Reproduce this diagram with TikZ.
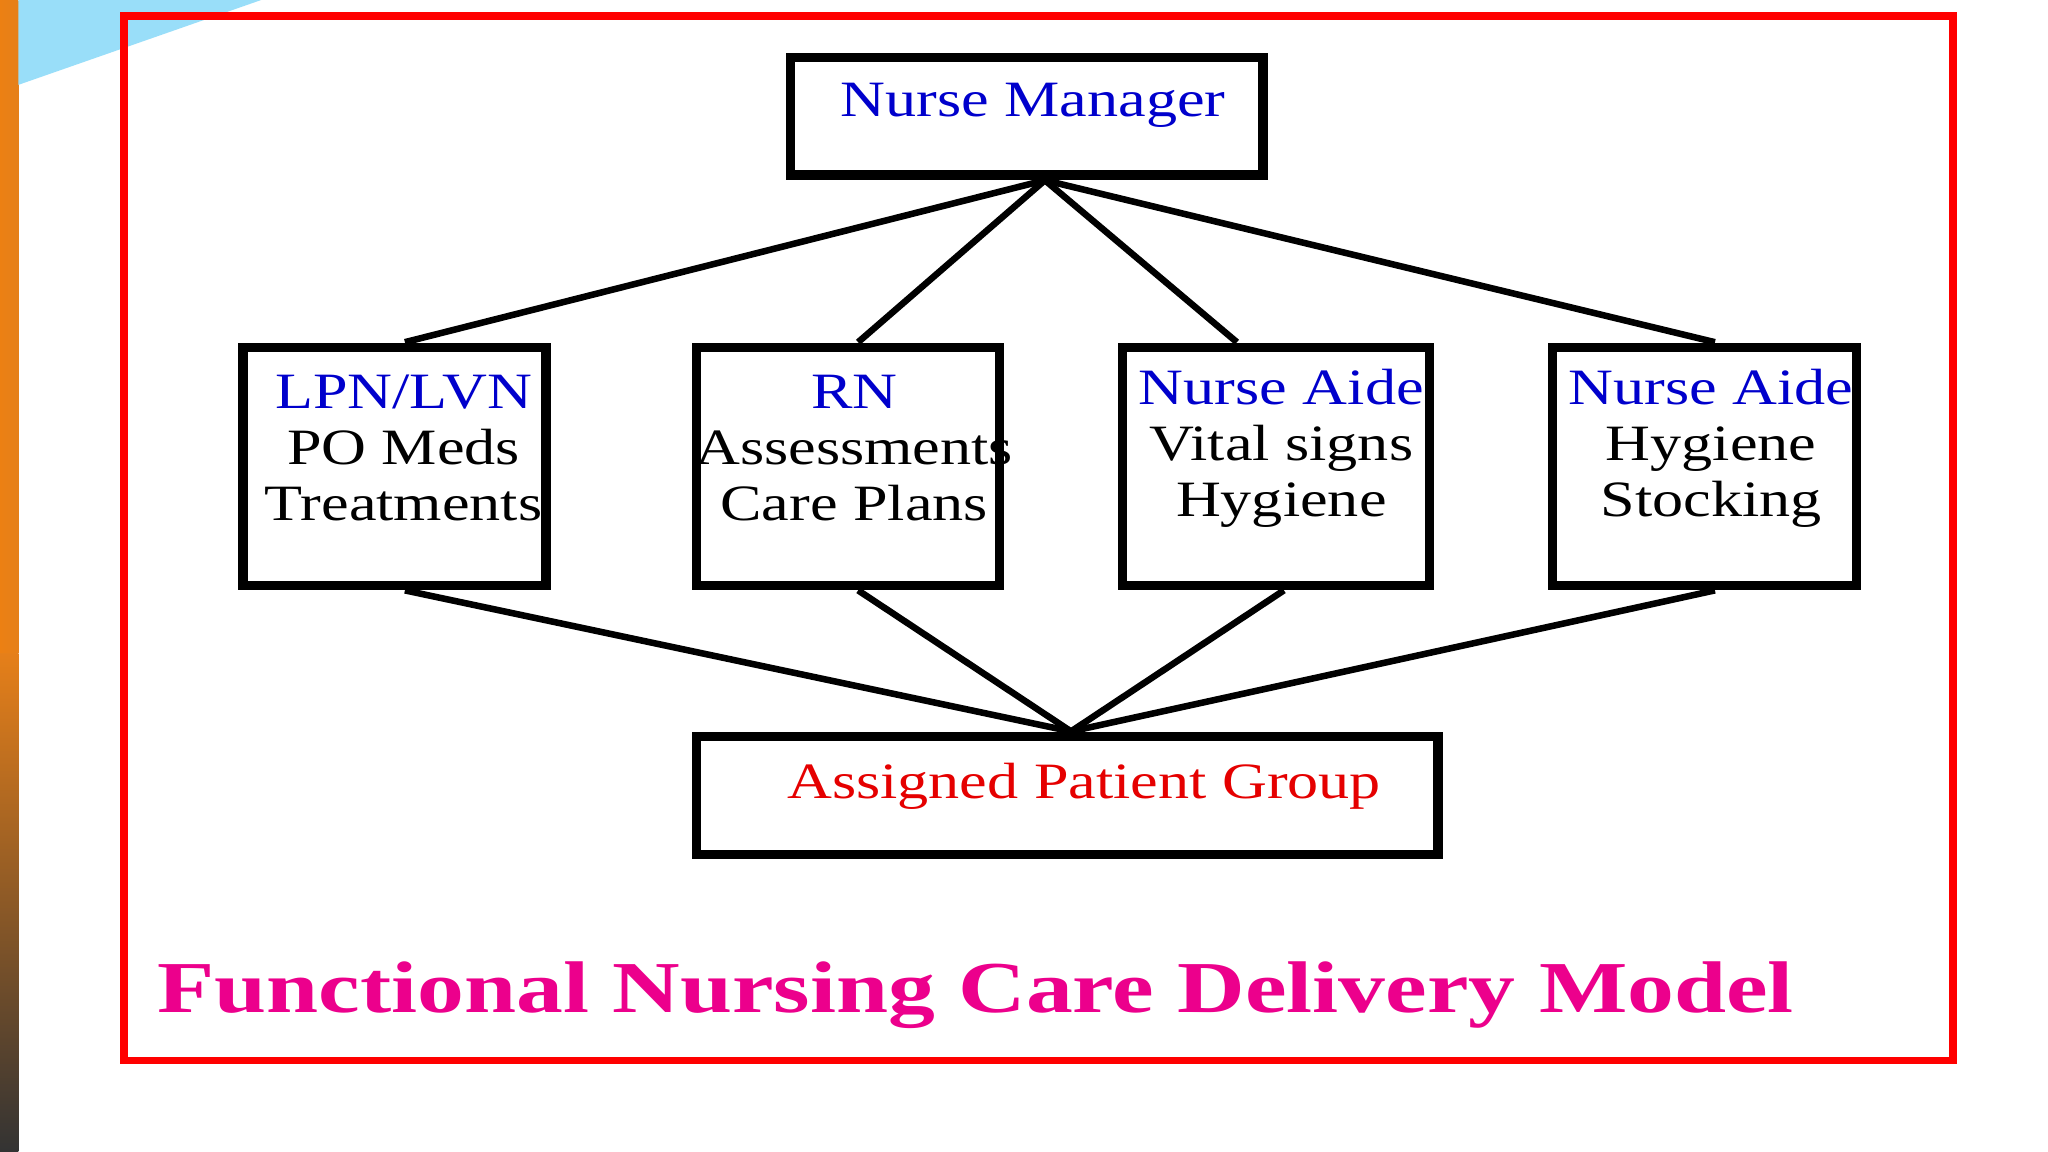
\documentclass[tikz,border=0pt]{standalone}
\usepackage{fontspec}
\usepackage{graphicx}
\setmainfont{Liberation Serif}
\newcommand{\widetxt}[1]{\scalebox{1.22}[1]{#1}}
\begin{document}
\begin{tikzpicture}[x=1pt,y=-1pt,
  box/.style={draw=black,line width=7pt,minimum width=#1,inner sep=0pt},
  txt/.style={align=center,inner sep=0pt,font=\fontsize{39}{43}\selectfont},
  link/.style={line width=5pt}]
\useasboundingbox (0,0) rectangle (1568,882);
\fill[white] (0,0) rectangle (1568,882);
\fill[left color=orange!70!brown,right color=orange!60!brown] (0,0) rectangle (14,500);
\fill[top color=orange!60!brown,bottom color=black!80] (0,500) rectangle (14,882);
\fill[cyan!40] (14,0) -- (200,0) -- (14,65) -- cycle;
\draw[red,line width=6pt] (95,12) rectangle (1495,812);
\node[box=362pt,minimum height=90pt] (nm) at (786,89) {};
\node[box=232pt,minimum height=182pt] (lpn) at (302,357) {};
\node[box=232pt,minimum height=182pt] (rn) at (649,357) {};
\node[box=235pt,minimum height=182pt] (na1) at (977,357) {};
\node[box=233pt,minimum height=182pt] (na2) at (1305,357) {};
\node[box=568pt,minimum height=90pt] (apg) at (817,609) {};
\node[txt] (nmt) at (791,81) {\widetxt{\textcolor{blue!80!black}{Nurse Manager}}};
\node[txt] (lpnt) at (309,343) {\widetxt{\textcolor{blue!80!black}{LPN/LVN}}\\\widetxt{PO Meds}\\\widetxt{Treatments}};
\node[txt] (rnt) at (654,343) {\widetxt{\textcolor{blue!80!black}{RN}}\\\widetxt{Assessments}\\\widetxt{Care Plans}};
\node[txt] (na1t) at (981,343) {\widetxt{\textcolor{blue!80!black}{Nurse Aide}}\\\widetxt{Vital signs}\\\widetxt{Hygiene}};
\node[txt] (na2t) at (1310,343) {\widetxt{\textcolor{blue!80!black}{Nurse Aide}}\\\widetxt{Hygiene}\\\widetxt{Stocking}};
\node[txt] (apgt) at (830,602) {\widetxt{\textcolor{red!90!black}{Assigned Patient Group}}};
\coordinate (top) at (800,138);
\coordinate (bot) at (820,560);
\coordinate (t1) at (310,262); \coordinate (t2) at (657,262);
\coordinate (t3) at (947,262); \coordinate (t4) at (1313,262);
\coordinate (b1) at (310,452); \coordinate (b2) at (657,452);
\coordinate (b3) at (983,452); \coordinate (b4) at (1313,452);
\foreach \t in {t1,t2,t3,t4} \draw[link] (top) -- (\t);
\foreach \b in {b1,b2,b3,b4} \draw[link] (\b) -- (bot);
\node[inner sep=0pt,font=\fontsize{56}{60}\selectfont\bfseries,text=magenta] (title) at (747,762) {\scalebox{1.28}[1]{Functional Nursing Care Delivery Model}};
\end{tikzpicture}
\end{document}
